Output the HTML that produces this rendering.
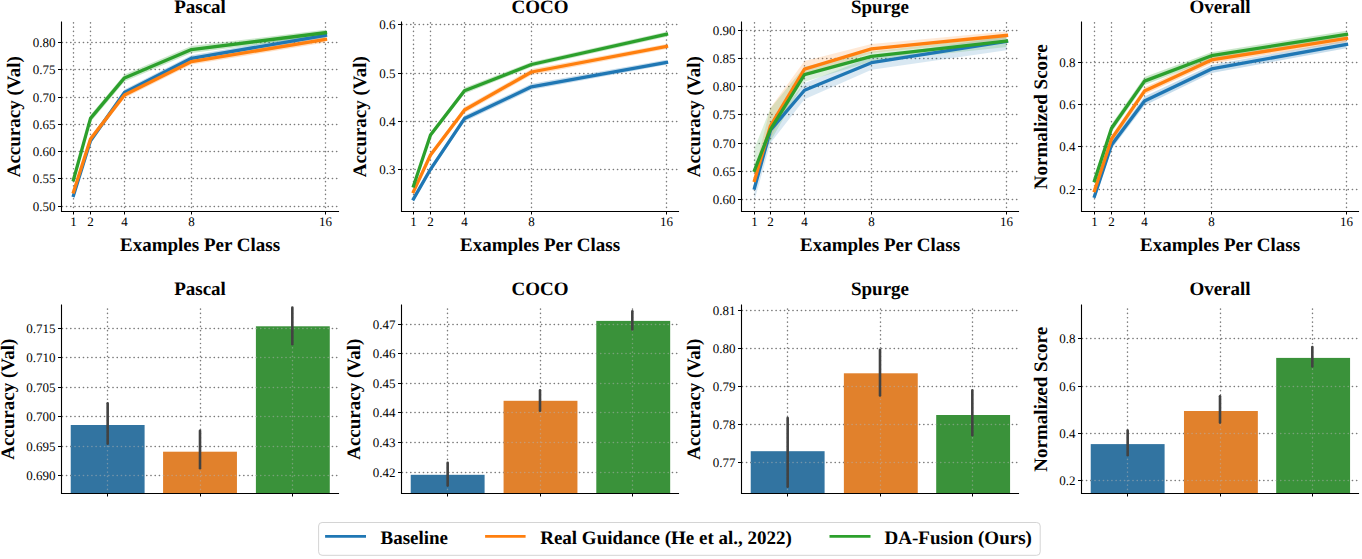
<!DOCTYPE html><html><head><meta charset="utf-8"><title>Results</title><style>html,body{margin:0;padding:0;background:#fff;width:1362px;height:559px;overflow:hidden}svg{display:block}</style></head><body><svg width="1362" height="559" viewBox="0 0 1362 559">
<style>.g{stroke:#7a7a7a;stroke-width:1.45;stroke-linecap:round;stroke-dasharray:0.25 3.97;stroke-dashoffset:-0.75;fill:none}.gv{stroke-dasharray:0.25 4.04;stroke-dashoffset:0.25}.sp{stroke:#000;stroke-width:1.1;fill:none;stroke-linecap:square}.tk{stroke:#000;stroke-width:1;fill:none}text{font-family:"Liberation Serif",serif;fill:#000;text-rendering:geometricPrecision}.tl{font-size:13px}.bl{font-size:19px;font-weight:bold}</style>
<rect width="100%" height="100%" fill="#fff"/>
<line x1="61.5" y1="206.5" x2="338.5" y2="206.5" class="g"/>
<line x1="61.5" y1="178.5" x2="338.5" y2="178.5" class="g"/>
<line x1="61.5" y1="151.5" x2="338.5" y2="151.5" class="g"/>
<line x1="61.5" y1="124.5" x2="338.5" y2="124.5" class="g"/>
<line x1="61.5" y1="97.5" x2="338.5" y2="97.5" class="g"/>
<line x1="61.5" y1="69.5" x2="338.5" y2="69.5" class="g"/>
<line x1="61.5" y1="42.5" x2="338.5" y2="42.5" class="g"/>
<line x1="73.5" y1="211.5" x2="73.5" y2="22" class="g gv"/>
<line x1="90.5" y1="211.5" x2="90.5" y2="22" class="g gv"/>
<line x1="124.5" y1="211.5" x2="124.5" y2="22" class="g gv"/>
<line x1="191.5" y1="211.5" x2="191.5" y2="22" class="g gv"/>
<line x1="325.5" y1="211.5" x2="325.5" y2="22" class="g gv"/>
<polygon points="73.5,192 90.5,137.7 124.5,89.5 191.5,55.3 325.5,32.3 325.5,38.3 191.5,61.3 124.5,95.5 90.5,143.7 73.5,199" fill="#1f77b4" fill-opacity="0.25"/>
<polygon points="73.5,189 90.5,136 124.5,92.1 191.5,58.6 325.5,36.4 325.5,42.4 191.5,64.6 124.5,98.1 90.5,142 73.5,195" fill="#ff7f0e" fill-opacity="0.25"/>
<polygon points="73.5,176.8 90.5,114.9 124.5,74.4 191.5,46.1 325.5,29.7 325.5,35.7 191.5,53.1 124.5,81.4 90.5,121.9 73.5,182.8" fill="#2ca02c" fill-opacity="0.25"/>
<polyline points="73.5,195.5 90.5,140.7 124.5,92.5 191.5,58.3 325.5,35.3" fill="none" stroke="#1f77b4" stroke-width="3.3" stroke-linejoin="round" stroke-linecap="square"/>
<polyline points="73.5,192 90.5,139 124.5,95.1 191.5,61.6 325.5,39.4" fill="none" stroke="#ff7f0e" stroke-width="3.3" stroke-linejoin="round" stroke-linecap="square"/>
<polyline points="73.5,179.8 90.5,118.4 124.5,77.9 191.5,49.6 325.5,32.7" fill="none" stroke="#2ca02c" stroke-width="3.3" stroke-linejoin="round" stroke-linecap="square"/>
<path class="sp" d="M61.5,22V211.5H338.5"/>
<line class="tk" x1="58" y1="206.5" x2="61.5" y2="206.5"/>
<text class="tl" x="55.5" y="210.9" text-anchor="end">0.50</text>
<line class="tk" x1="58" y1="178.5" x2="61.5" y2="178.5"/>
<text class="tl" x="55.5" y="182.9" text-anchor="end">0.55</text>
<line class="tk" x1="58" y1="151.5" x2="61.5" y2="151.5"/>
<text class="tl" x="55.5" y="155.9" text-anchor="end">0.60</text>
<line class="tk" x1="58" y1="124.5" x2="61.5" y2="124.5"/>
<text class="tl" x="55.5" y="128.9" text-anchor="end">0.65</text>
<line class="tk" x1="58" y1="97.5" x2="61.5" y2="97.5"/>
<text class="tl" x="55.5" y="101.9" text-anchor="end">0.70</text>
<line class="tk" x1="58" y1="69.5" x2="61.5" y2="69.5"/>
<text class="tl" x="55.5" y="73.9" text-anchor="end">0.75</text>
<line class="tk" x1="58" y1="42.5" x2="61.5" y2="42.5"/>
<text class="tl" x="55.5" y="46.9" text-anchor="end">0.80</text>
<line class="tk" x1="73.5" y1="211.5" x2="73.5" y2="214.5"/>
<text class="tl" x="73.5" y="226.1" text-anchor="middle">1</text>
<line class="tk" x1="90.5" y1="211.5" x2="90.5" y2="214.5"/>
<text class="tl" x="90.5" y="226.1" text-anchor="middle">2</text>
<line class="tk" x1="124.5" y1="211.5" x2="124.5" y2="214.5"/>
<text class="tl" x="124.5" y="226.1" text-anchor="middle">4</text>
<line class="tk" x1="191.5" y1="211.5" x2="191.5" y2="214.5"/>
<text class="tl" x="191.5" y="226.1" text-anchor="middle">8</text>
<line class="tk" x1="325.5" y1="211.5" x2="325.5" y2="214.5"/>
<text class="tl" x="325.5" y="226.1" text-anchor="middle">16</text>
<text class="bl" x="200" y="13.1" text-anchor="middle">Pascal</text>
<text class="bl" x="200" y="250.8" text-anchor="middle">Examples Per Class</text>
<text class="bl" x="20" y="116.75" text-anchor="middle" transform="rotate(-90 20 116.75)">Accuracy (Val)</text>
<line x1="401.5" y1="169.5" x2="678.5" y2="169.5" class="g"/>
<line x1="401.5" y1="121.5" x2="678.5" y2="121.5" class="g"/>
<line x1="401.5" y1="73.5" x2="678.5" y2="73.5" class="g"/>
<line x1="401.5" y1="24.5" x2="678.5" y2="24.5" class="g"/>
<line x1="413.5" y1="211.5" x2="413.5" y2="22" class="g gv"/>
<line x1="430.5" y1="211.5" x2="430.5" y2="22" class="g gv"/>
<line x1="464.5" y1="211.5" x2="464.5" y2="22" class="g gv"/>
<line x1="531.5" y1="211.5" x2="531.5" y2="22" class="g gv"/>
<line x1="666.5" y1="211.5" x2="666.5" y2="22" class="g gv"/>
<polygon points="413.5,196.4 430.5,166.8 464.5,115.6 531.5,83.8 666.5,59.8 666.5,64.8 531.5,89.8 464.5,121.6 430.5,171.8 413.5,201.4" fill="#1f77b4" fill-opacity="0.25"/>
<polygon points="413.5,189.1 430.5,152.5 464.5,107 531.5,69 666.5,43.9 666.5,48.9 531.5,75 464.5,113 430.5,157.5 413.5,194.1" fill="#ff7f0e" fill-opacity="0.25"/>
<polygon points="413.5,183.5 430.5,132.5 464.5,87.8 531.5,62 666.5,31.7 666.5,36.7 531.5,67 464.5,93.8 430.5,137.5 413.5,188.5" fill="#2ca02c" fill-opacity="0.25"/>
<polyline points="413.5,198.9 430.5,169.3 464.5,118.6 531.5,86.8 666.5,62.3" fill="none" stroke="#1f77b4" stroke-width="3.3" stroke-linejoin="round" stroke-linecap="square"/>
<polyline points="413.5,191.6 430.5,155 464.5,110 531.5,72 666.5,46.4" fill="none" stroke="#ff7f0e" stroke-width="3.3" stroke-linejoin="round" stroke-linecap="square"/>
<polyline points="413.5,186 430.5,135 464.5,90.8 531.5,64.5 666.5,34.2" fill="none" stroke="#2ca02c" stroke-width="3.3" stroke-linejoin="round" stroke-linecap="square"/>
<path class="sp" d="M401.5,22V211.5H678.5"/>
<line class="tk" x1="398" y1="169.5" x2="401.5" y2="169.5"/>
<text class="tl" x="395.5" y="173.9" text-anchor="end">0.3</text>
<line class="tk" x1="398" y1="121.5" x2="401.5" y2="121.5"/>
<text class="tl" x="395.5" y="125.9" text-anchor="end">0.4</text>
<line class="tk" x1="398" y1="73.5" x2="401.5" y2="73.5"/>
<text class="tl" x="395.5" y="77.9" text-anchor="end">0.5</text>
<line class="tk" x1="398" y1="24.5" x2="401.5" y2="24.5"/>
<text class="tl" x="395.5" y="28.9" text-anchor="end">0.6</text>
<line class="tk" x1="413.5" y1="211.5" x2="413.5" y2="214.5"/>
<text class="tl" x="413.5" y="226.1" text-anchor="middle">1</text>
<line class="tk" x1="430.5" y1="211.5" x2="430.5" y2="214.5"/>
<text class="tl" x="430.5" y="226.1" text-anchor="middle">2</text>
<line class="tk" x1="464.5" y1="211.5" x2="464.5" y2="214.5"/>
<text class="tl" x="464.5" y="226.1" text-anchor="middle">4</text>
<line class="tk" x1="531.5" y1="211.5" x2="531.5" y2="214.5"/>
<text class="tl" x="531.5" y="226.1" text-anchor="middle">8</text>
<line class="tk" x1="666.5" y1="211.5" x2="666.5" y2="214.5"/>
<text class="tl" x="666.5" y="226.1" text-anchor="middle">16</text>
<text class="bl" x="540" y="13.1" text-anchor="middle">COCO</text>
<text class="bl" x="540" y="250.8" text-anchor="middle">Examples Per Class</text>
<text class="bl" x="366" y="116.75" text-anchor="middle" transform="rotate(-90 366 116.75)">Accuracy (Val)</text>
<line x1="741.5" y1="199.5" x2="1018.5" y2="199.5" class="g"/>
<line x1="741.5" y1="171.5" x2="1018.5" y2="171.5" class="g"/>
<line x1="741.5" y1="143.5" x2="1018.5" y2="143.5" class="g"/>
<line x1="741.5" y1="114.5" x2="1018.5" y2="114.5" class="g"/>
<line x1="741.5" y1="86.5" x2="1018.5" y2="86.5" class="g"/>
<line x1="741.5" y1="58.5" x2="1018.5" y2="58.5" class="g"/>
<line x1="741.5" y1="30.5" x2="1018.5" y2="30.5" class="g"/>
<line x1="754.5" y1="211.5" x2="754.5" y2="22" class="g gv"/>
<line x1="770.5" y1="211.5" x2="770.5" y2="22" class="g gv"/>
<line x1="804.5" y1="211.5" x2="804.5" y2="22" class="g gv"/>
<line x1="871.5" y1="211.5" x2="871.5" y2="22" class="g gv"/>
<line x1="1006.5" y1="211.5" x2="1006.5" y2="22" class="g gv"/>
<polygon points="754.5,180 770.5,124.1 804.5,83.2 871.5,56.7 1006.5,36.3 1006.5,50.3 871.5,69.7 804.5,99.2 770.5,143.1 754.5,200" fill="#1f77b4" fill-opacity="0.17"/>
<polygon points="754.5,170.4 770.5,107.8 804.5,61.1 871.5,43.9 1006.5,31.4 1006.5,39.4 871.5,52.9 804.5,75.1 770.5,137.8 754.5,186.4" fill="#ff7f0e" fill-opacity="0.17"/>
<polygon points="754.5,148.3 770.5,108.3 804.5,66.7 871.5,51.4 1006.5,36.1 1006.5,47.1 871.5,61.4 804.5,81.7 770.5,141.3 754.5,174.3" fill="#2ca02c" fill-opacity="0.17"/>
<polyline points="754.5,188 770.5,130.1 804.5,90.2 871.5,62.7 1006.5,41.3" fill="none" stroke="#1f77b4" stroke-width="3.3" stroke-linejoin="round" stroke-linecap="square"/>
<polyline points="754.5,180.4 770.5,125.8 804.5,69.1 871.5,48.9 1006.5,35.4" fill="none" stroke="#ff7f0e" stroke-width="3.3" stroke-linejoin="round" stroke-linecap="square"/>
<polyline points="754.5,170.3 770.5,129.3 804.5,74.7 871.5,56.4 1006.5,41.1" fill="none" stroke="#2ca02c" stroke-width="3.3" stroke-linejoin="round" stroke-linecap="square"/>
<path class="sp" d="M741.5,22V211.5H1018.5"/>
<line class="tk" x1="738" y1="199.5" x2="741.5" y2="199.5"/>
<text class="tl" x="735.5" y="203.9" text-anchor="end">0.60</text>
<line class="tk" x1="738" y1="171.5" x2="741.5" y2="171.5"/>
<text class="tl" x="735.5" y="175.9" text-anchor="end">0.65</text>
<line class="tk" x1="738" y1="143.5" x2="741.5" y2="143.5"/>
<text class="tl" x="735.5" y="147.9" text-anchor="end">0.70</text>
<line class="tk" x1="738" y1="114.5" x2="741.5" y2="114.5"/>
<text class="tl" x="735.5" y="118.9" text-anchor="end">0.75</text>
<line class="tk" x1="738" y1="86.5" x2="741.5" y2="86.5"/>
<text class="tl" x="735.5" y="90.9" text-anchor="end">0.80</text>
<line class="tk" x1="738" y1="58.5" x2="741.5" y2="58.5"/>
<text class="tl" x="735.5" y="62.9" text-anchor="end">0.85</text>
<line class="tk" x1="738" y1="30.5" x2="741.5" y2="30.5"/>
<text class="tl" x="735.5" y="34.9" text-anchor="end">0.90</text>
<line class="tk" x1="754.5" y1="211.5" x2="754.5" y2="214.5"/>
<text class="tl" x="754.5" y="226.1" text-anchor="middle">1</text>
<line class="tk" x1="770.5" y1="211.5" x2="770.5" y2="214.5"/>
<text class="tl" x="770.5" y="226.1" text-anchor="middle">2</text>
<line class="tk" x1="804.5" y1="211.5" x2="804.5" y2="214.5"/>
<text class="tl" x="804.5" y="226.1" text-anchor="middle">4</text>
<line class="tk" x1="871.5" y1="211.5" x2="871.5" y2="214.5"/>
<text class="tl" x="871.5" y="226.1" text-anchor="middle">8</text>
<line class="tk" x1="1006.5" y1="211.5" x2="1006.5" y2="214.5"/>
<text class="tl" x="1006.5" y="226.1" text-anchor="middle">16</text>
<text class="bl" x="880" y="13.1" text-anchor="middle">Spurge</text>
<text class="bl" x="880" y="250.8" text-anchor="middle">Examples Per Class</text>
<text class="bl" x="700" y="116.75" text-anchor="middle" transform="rotate(-90 700 116.75)">Accuracy (Val)</text>
<line x1="1081.5" y1="189.5" x2="1358.5" y2="189.5" class="g"/>
<line x1="1081.5" y1="146.5" x2="1358.5" y2="146.5" class="g"/>
<line x1="1081.5" y1="104.5" x2="1358.5" y2="104.5" class="g"/>
<line x1="1081.5" y1="62.5" x2="1358.5" y2="62.5" class="g"/>
<line x1="1094.5" y1="211.5" x2="1094.5" y2="22" class="g gv"/>
<line x1="1111.5" y1="211.5" x2="1111.5" y2="22" class="g gv"/>
<line x1="1144.5" y1="211.5" x2="1144.5" y2="22" class="g gv"/>
<line x1="1211.5" y1="211.5" x2="1211.5" y2="22" class="g gv"/>
<line x1="1346.5" y1="211.5" x2="1346.5" y2="22" class="g gv"/>
<polygon points="1094.5,192.2 1111.5,141 1144.5,96.4 1211.5,64.9 1346.5,40.3 1346.5,48.3 1211.5,72.9 1144.5,105.4 1111.5,149 1094.5,200.2" fill="#1f77b4" fill-opacity="0.25"/>
<polygon points="1094.5,187.1 1111.5,135.4 1144.5,87.6 1211.5,56.4 1346.5,34.9 1346.5,41.9 1211.5,63.4 1144.5,94.6 1111.5,142.4 1094.5,194.1" fill="#ff7f0e" fill-opacity="0.25"/>
<polygon points="1094.5,177.1 1111.5,124.3 1144.5,77.1 1211.5,52.2 1346.5,30.8 1346.5,37.8 1211.5,59.2 1144.5,85.1 1111.5,132.3 1094.5,184.1" fill="#2ca02c" fill-opacity="0.25"/>
<polyline points="1094.5,196.2 1111.5,145 1144.5,100.9 1211.5,68.9 1346.5,44.3" fill="none" stroke="#1f77b4" stroke-width="3.3" stroke-linejoin="round" stroke-linecap="square"/>
<polyline points="1094.5,190.6 1111.5,138.9 1144.5,91.1 1211.5,59.9 1346.5,38.4" fill="none" stroke="#ff7f0e" stroke-width="3.3" stroke-linejoin="round" stroke-linecap="square"/>
<polyline points="1094.5,180.6 1111.5,128.3 1144.5,81.1 1211.5,55.7 1346.5,34.3" fill="none" stroke="#2ca02c" stroke-width="3.3" stroke-linejoin="round" stroke-linecap="square"/>
<path class="sp" d="M1081.5,22V211.5H1358.5"/>
<line class="tk" x1="1078" y1="189.5" x2="1081.5" y2="189.5"/>
<text class="tl" x="1075.5" y="193.9" text-anchor="end">0.2</text>
<line class="tk" x1="1078" y1="146.5" x2="1081.5" y2="146.5"/>
<text class="tl" x="1075.5" y="150.9" text-anchor="end">0.4</text>
<line class="tk" x1="1078" y1="104.5" x2="1081.5" y2="104.5"/>
<text class="tl" x="1075.5" y="108.9" text-anchor="end">0.6</text>
<line class="tk" x1="1078" y1="62.5" x2="1081.5" y2="62.5"/>
<text class="tl" x="1075.5" y="66.9" text-anchor="end">0.8</text>
<line class="tk" x1="1094.5" y1="211.5" x2="1094.5" y2="214.5"/>
<text class="tl" x="1094.5" y="226.1" text-anchor="middle">1</text>
<line class="tk" x1="1111.5" y1="211.5" x2="1111.5" y2="214.5"/>
<text class="tl" x="1111.5" y="226.1" text-anchor="middle">2</text>
<line class="tk" x1="1144.5" y1="211.5" x2="1144.5" y2="214.5"/>
<text class="tl" x="1144.5" y="226.1" text-anchor="middle">4</text>
<line class="tk" x1="1211.5" y1="211.5" x2="1211.5" y2="214.5"/>
<text class="tl" x="1211.5" y="226.1" text-anchor="middle">8</text>
<line class="tk" x1="1346.5" y1="211.5" x2="1346.5" y2="214.5"/>
<text class="tl" x="1346.5" y="226.1" text-anchor="middle">16</text>
<text class="bl" x="1220" y="13.1" text-anchor="middle">Overall</text>
<text class="bl" x="1220" y="250.8" text-anchor="middle">Examples Per Class</text>
<text class="bl" x="1046.8" y="116.75" text-anchor="middle" transform="rotate(-90 1046.8 116.75)">Normalized Score</text>
<line x1="61.5" y1="475.5" x2="338.5" y2="475.5" class="g"/>
<line x1="61.5" y1="446.5" x2="338.5" y2="446.5" class="g"/>
<line x1="61.5" y1="416.5" x2="338.5" y2="416.5" class="g"/>
<line x1="61.5" y1="387.5" x2="338.5" y2="387.5" class="g"/>
<line x1="61.5" y1="357.5" x2="338.5" y2="357.5" class="g"/>
<line x1="61.5" y1="328.5" x2="338.5" y2="328.5" class="g"/>
<line x1="107.5" y1="493.5" x2="107.5" y2="305" class="g gv"/>
<line x1="200.5" y1="493.5" x2="200.5" y2="305" class="g gv"/>
<line x1="292.5" y1="493.5" x2="292.5" y2="305" class="g gv"/>
<rect x="70.73" y="425" width="73.87" height="68.5" fill="#3274a1"/>
<rect x="163.07" y="451.7" width="73.87" height="41.8" fill="#e1812c"/>
<rect x="255.9" y="326.3" width="73.87" height="167.2" fill="#3a923a"/>
<clipPath id="cb0"><rect x="70.73" y="425" width="73.87" height="68.5"/><rect x="163.07" y="451.7" width="73.87" height="41.8"/><rect x="255.9" y="326.3" width="73.87" height="167.2"/></clipPath>
<g clip-path="url(#cb0)" style="stroke:#b4b4b4;stroke-opacity:0.5">
<line x1="61.5" y1="475.5" x2="338.5" y2="475.5" class="g" style="stroke:inherit"/>
<line x1="61.5" y1="446.5" x2="338.5" y2="446.5" class="g" style="stroke:inherit"/>
<line x1="61.5" y1="416.5" x2="338.5" y2="416.5" class="g" style="stroke:inherit"/>
<line x1="61.5" y1="387.5" x2="338.5" y2="387.5" class="g" style="stroke:inherit"/>
<line x1="61.5" y1="357.5" x2="338.5" y2="357.5" class="g" style="stroke:inherit"/>
<line x1="61.5" y1="328.5" x2="338.5" y2="328.5" class="g" style="stroke:inherit"/>
<line x1="107.5" y1="493.5" x2="107.5" y2="305" class="g gv" style="stroke:inherit"/>
<line x1="200.5" y1="493.5" x2="200.5" y2="305" class="g gv" style="stroke:inherit"/>
<line x1="292.5" y1="493.5" x2="292.5" y2="305" class="g gv" style="stroke:inherit"/>
</g>
<line x1="107.67" y1="403.3" x2="107.67" y2="443.7" stroke="#424242" stroke-width="2.6" stroke-linecap="round"/>
<line x1="200" y1="430.8" x2="200" y2="468.3" stroke="#424242" stroke-width="2.6" stroke-linecap="round"/>
<line x1="292.33" y1="307.5" x2="292.33" y2="344.3" stroke="#424242" stroke-width="2.6" stroke-linecap="round"/>
<path class="sp" d="M61.5,305V493.5H338.5"/>
<line class="tk" x1="58" y1="475.5" x2="61.5" y2="475.5"/>
<text class="tl" x="55.5" y="479.9" text-anchor="end">0.690</text>
<line class="tk" x1="58" y1="446.5" x2="61.5" y2="446.5"/>
<text class="tl" x="55.5" y="450.9" text-anchor="end">0.695</text>
<line class="tk" x1="58" y1="416.5" x2="61.5" y2="416.5"/>
<text class="tl" x="55.5" y="420.9" text-anchor="end">0.700</text>
<line class="tk" x1="58" y1="387.5" x2="61.5" y2="387.5"/>
<text class="tl" x="55.5" y="391.9" text-anchor="end">0.705</text>
<line class="tk" x1="58" y1="357.5" x2="61.5" y2="357.5"/>
<text class="tl" x="55.5" y="361.9" text-anchor="end">0.710</text>
<line class="tk" x1="58" y1="328.5" x2="61.5" y2="328.5"/>
<text class="tl" x="55.5" y="332.9" text-anchor="end">0.715</text>
<line class="tk" x1="107.5" y1="493.5" x2="107.5" y2="496.5"/>
<line class="tk" x1="200.5" y1="493.5" x2="200.5" y2="496.5"/>
<line class="tk" x1="292.5" y1="493.5" x2="292.5" y2="496.5"/>
<text class="bl" x="200" y="295.4" text-anchor="middle">Pascal</text>
<text class="bl" x="14" y="399.25" text-anchor="middle" transform="rotate(-90 14 399.25)">Accuracy (Val)</text>
<line x1="401.5" y1="472.5" x2="678.5" y2="472.5" class="g"/>
<line x1="401.5" y1="442.5" x2="678.5" y2="442.5" class="g"/>
<line x1="401.5" y1="412.5" x2="678.5" y2="412.5" class="g"/>
<line x1="401.5" y1="383.5" x2="678.5" y2="383.5" class="g"/>
<line x1="401.5" y1="353.5" x2="678.5" y2="353.5" class="g"/>
<line x1="401.5" y1="324.5" x2="678.5" y2="324.5" class="g"/>
<line x1="447.5" y1="493.5" x2="447.5" y2="305" class="g gv"/>
<line x1="540.5" y1="493.5" x2="540.5" y2="305" class="g gv"/>
<line x1="632.5" y1="493.5" x2="632.5" y2="305" class="g gv"/>
<rect x="410.73" y="474.8" width="73.87" height="18.7" fill="#3274a1"/>
<rect x="503.57" y="400.8" width="73.87" height="92.7" fill="#e1812c"/>
<rect x="596.3" y="320.9" width="73.87" height="172.6" fill="#3a923a"/>
<clipPath id="cb1"><rect x="410.73" y="474.8" width="73.87" height="18.7"/><rect x="503.57" y="400.8" width="73.87" height="92.7"/><rect x="596.3" y="320.9" width="73.87" height="172.6"/></clipPath>
<g clip-path="url(#cb1)" style="stroke:#b4b4b4;stroke-opacity:0.5">
<line x1="401.5" y1="472.5" x2="678.5" y2="472.5" class="g" style="stroke:inherit"/>
<line x1="401.5" y1="442.5" x2="678.5" y2="442.5" class="g" style="stroke:inherit"/>
<line x1="401.5" y1="412.5" x2="678.5" y2="412.5" class="g" style="stroke:inherit"/>
<line x1="401.5" y1="383.5" x2="678.5" y2="383.5" class="g" style="stroke:inherit"/>
<line x1="401.5" y1="353.5" x2="678.5" y2="353.5" class="g" style="stroke:inherit"/>
<line x1="401.5" y1="324.5" x2="678.5" y2="324.5" class="g" style="stroke:inherit"/>
<line x1="447.5" y1="493.5" x2="447.5" y2="305" class="g gv" style="stroke:inherit"/>
<line x1="540.5" y1="493.5" x2="540.5" y2="305" class="g gv" style="stroke:inherit"/>
<line x1="632.5" y1="493.5" x2="632.5" y2="305" class="g gv" style="stroke:inherit"/>
</g>
<line x1="447.67" y1="462.8" x2="447.67" y2="485.6" stroke="#424242" stroke-width="2.6" stroke-linecap="round"/>
<line x1="540" y1="390.4" x2="540" y2="410.8" stroke="#424242" stroke-width="2.6" stroke-linecap="round"/>
<line x1="632.33" y1="311.3" x2="632.33" y2="329.4" stroke="#424242" stroke-width="2.6" stroke-linecap="round"/>
<path class="sp" d="M401.5,305V493.5H678.5"/>
<line class="tk" x1="398" y1="472.5" x2="401.5" y2="472.5"/>
<text class="tl" x="395.5" y="476.9" text-anchor="end">0.42</text>
<line class="tk" x1="398" y1="442.5" x2="401.5" y2="442.5"/>
<text class="tl" x="395.5" y="446.9" text-anchor="end">0.43</text>
<line class="tk" x1="398" y1="412.5" x2="401.5" y2="412.5"/>
<text class="tl" x="395.5" y="416.9" text-anchor="end">0.44</text>
<line class="tk" x1="398" y1="383.5" x2="401.5" y2="383.5"/>
<text class="tl" x="395.5" y="387.9" text-anchor="end">0.45</text>
<line class="tk" x1="398" y1="353.5" x2="401.5" y2="353.5"/>
<text class="tl" x="395.5" y="357.9" text-anchor="end">0.46</text>
<line class="tk" x1="398" y1="324.5" x2="401.5" y2="324.5"/>
<text class="tl" x="395.5" y="328.9" text-anchor="end">0.47</text>
<line class="tk" x1="447.5" y1="493.5" x2="447.5" y2="496.5"/>
<line class="tk" x1="540.5" y1="493.5" x2="540.5" y2="496.5"/>
<line class="tk" x1="632.5" y1="493.5" x2="632.5" y2="496.5"/>
<text class="bl" x="540" y="295.4" text-anchor="middle">COCO</text>
<text class="bl" x="360" y="399.25" text-anchor="middle" transform="rotate(-90 360 399.25)">Accuracy (Val)</text>
<line x1="741.5" y1="462.5" x2="1018.5" y2="462.5" class="g"/>
<line x1="741.5" y1="424.5" x2="1018.5" y2="424.5" class="g"/>
<line x1="741.5" y1="386.5" x2="1018.5" y2="386.5" class="g"/>
<line x1="741.5" y1="348.5" x2="1018.5" y2="348.5" class="g"/>
<line x1="741.5" y1="310.5" x2="1018.5" y2="310.5" class="g"/>
<line x1="787.5" y1="493.5" x2="787.5" y2="305" class="g gv"/>
<line x1="880.5" y1="493.5" x2="880.5" y2="305" class="g gv"/>
<line x1="972.5" y1="493.5" x2="972.5" y2="305" class="g gv"/>
<rect x="750.73" y="451.2" width="73.87" height="42.3" fill="#3274a1"/>
<rect x="843.87" y="373.3" width="73.87" height="120.2" fill="#e1812c"/>
<rect x="936.2" y="415" width="73.87" height="78.5" fill="#3a923a"/>
<clipPath id="cb2"><rect x="750.73" y="451.2" width="73.87" height="42.3"/><rect x="843.87" y="373.3" width="73.87" height="120.2"/><rect x="936.2" y="415" width="73.87" height="78.5"/></clipPath>
<g clip-path="url(#cb2)" style="stroke:#b4b4b4;stroke-opacity:0.5">
<line x1="741.5" y1="462.5" x2="1018.5" y2="462.5" class="g" style="stroke:inherit"/>
<line x1="741.5" y1="424.5" x2="1018.5" y2="424.5" class="g" style="stroke:inherit"/>
<line x1="741.5" y1="386.5" x2="1018.5" y2="386.5" class="g" style="stroke:inherit"/>
<line x1="741.5" y1="348.5" x2="1018.5" y2="348.5" class="g" style="stroke:inherit"/>
<line x1="741.5" y1="310.5" x2="1018.5" y2="310.5" class="g" style="stroke:inherit"/>
<line x1="787.5" y1="493.5" x2="787.5" y2="305" class="g gv" style="stroke:inherit"/>
<line x1="880.5" y1="493.5" x2="880.5" y2="305" class="g gv" style="stroke:inherit"/>
<line x1="972.5" y1="493.5" x2="972.5" y2="305" class="g gv" style="stroke:inherit"/>
</g>
<line x1="787.67" y1="418" x2="787.67" y2="486.8" stroke="#424242" stroke-width="2.6" stroke-linecap="round"/>
<line x1="880" y1="349.9" x2="880" y2="395.5" stroke="#424242" stroke-width="2.6" stroke-linecap="round"/>
<line x1="972.33" y1="390.4" x2="972.33" y2="435.2" stroke="#424242" stroke-width="2.6" stroke-linecap="round"/>
<path class="sp" d="M741.5,305V493.5H1018.5"/>
<line class="tk" x1="738" y1="462.5" x2="741.5" y2="462.5"/>
<text class="tl" x="735.5" y="466.9" text-anchor="end">0.77</text>
<line class="tk" x1="738" y1="424.5" x2="741.5" y2="424.5"/>
<text class="tl" x="735.5" y="428.9" text-anchor="end">0.78</text>
<line class="tk" x1="738" y1="386.5" x2="741.5" y2="386.5"/>
<text class="tl" x="735.5" y="390.9" text-anchor="end">0.79</text>
<line class="tk" x1="738" y1="348.5" x2="741.5" y2="348.5"/>
<text class="tl" x="735.5" y="352.9" text-anchor="end">0.80</text>
<line class="tk" x1="738" y1="310.5" x2="741.5" y2="310.5"/>
<text class="tl" x="735.5" y="314.9" text-anchor="end">0.81</text>
<line class="tk" x1="787.5" y1="493.5" x2="787.5" y2="496.5"/>
<line class="tk" x1="880.5" y1="493.5" x2="880.5" y2="496.5"/>
<line class="tk" x1="972.5" y1="493.5" x2="972.5" y2="496.5"/>
<text class="bl" x="880" y="295.4" text-anchor="middle">Spurge</text>
<text class="bl" x="700" y="399.25" text-anchor="middle" transform="rotate(-90 700 399.25)">Accuracy (Val)</text>
<line x1="1081.5" y1="480.5" x2="1358.5" y2="480.5" class="g"/>
<line x1="1081.5" y1="433.5" x2="1358.5" y2="433.5" class="g"/>
<line x1="1081.5" y1="386.5" x2="1358.5" y2="386.5" class="g"/>
<line x1="1081.5" y1="338.5" x2="1358.5" y2="338.5" class="g"/>
<line x1="1127.5" y1="493.5" x2="1127.5" y2="305" class="g gv"/>
<line x1="1220.5" y1="493.5" x2="1220.5" y2="305" class="g gv"/>
<line x1="1312.5" y1="493.5" x2="1312.5" y2="305" class="g gv"/>
<rect x="1090.73" y="444.1" width="73.87" height="49.4" fill="#3274a1"/>
<rect x="1183.97" y="411" width="73.87" height="82.5" fill="#e1812c"/>
<rect x="1276.2" y="357.9" width="73.87" height="135.6" fill="#3a923a"/>
<clipPath id="cb3"><rect x="1090.73" y="444.1" width="73.87" height="49.4"/><rect x="1183.97" y="411" width="73.87" height="82.5"/><rect x="1276.2" y="357.9" width="73.87" height="135.6"/></clipPath>
<g clip-path="url(#cb3)" style="stroke:#b4b4b4;stroke-opacity:0.5">
<line x1="1081.5" y1="480.5" x2="1358.5" y2="480.5" class="g" style="stroke:inherit"/>
<line x1="1081.5" y1="433.5" x2="1358.5" y2="433.5" class="g" style="stroke:inherit"/>
<line x1="1081.5" y1="386.5" x2="1358.5" y2="386.5" class="g" style="stroke:inherit"/>
<line x1="1081.5" y1="338.5" x2="1358.5" y2="338.5" class="g" style="stroke:inherit"/>
<line x1="1127.5" y1="493.5" x2="1127.5" y2="305" class="g gv" style="stroke:inherit"/>
<line x1="1220.5" y1="493.5" x2="1220.5" y2="305" class="g gv" style="stroke:inherit"/>
<line x1="1312.5" y1="493.5" x2="1312.5" y2="305" class="g gv" style="stroke:inherit"/>
</g>
<line x1="1127.67" y1="430.5" x2="1127.67" y2="455.3" stroke="#424242" stroke-width="2.6" stroke-linecap="round"/>
<line x1="1220" y1="396.3" x2="1220" y2="422.6" stroke="#424242" stroke-width="2.6" stroke-linecap="round"/>
<line x1="1312.33" y1="347.1" x2="1312.33" y2="366.4" stroke="#424242" stroke-width="2.6" stroke-linecap="round"/>
<path class="sp" d="M1081.5,305V493.5H1358.5"/>
<line class="tk" x1="1078" y1="480.5" x2="1081.5" y2="480.5"/>
<text class="tl" x="1075.5" y="484.9" text-anchor="end">0.2</text>
<line class="tk" x1="1078" y1="433.5" x2="1081.5" y2="433.5"/>
<text class="tl" x="1075.5" y="437.9" text-anchor="end">0.4</text>
<line class="tk" x1="1078" y1="386.5" x2="1081.5" y2="386.5"/>
<text class="tl" x="1075.5" y="390.9" text-anchor="end">0.6</text>
<line class="tk" x1="1078" y1="338.5" x2="1081.5" y2="338.5"/>
<text class="tl" x="1075.5" y="342.9" text-anchor="end">0.8</text>
<line class="tk" x1="1127.5" y1="493.5" x2="1127.5" y2="496.5"/>
<line class="tk" x1="1220.5" y1="493.5" x2="1220.5" y2="496.5"/>
<line class="tk" x1="1312.5" y1="493.5" x2="1312.5" y2="496.5"/>
<text class="bl" x="1220" y="295.4" text-anchor="middle">Overall</text>
<text class="bl" x="1046.8" y="399.25" text-anchor="middle" transform="rotate(-90 1046.8 399.25)">Normalized Score</text>
<rect x="318.6" y="522.5" width="721.6" height="32.8" rx="3.5" fill="#fff" stroke="#d4d4d4" stroke-width="1"/>
<line x1="325.1" y1="536.4" x2="366" y2="536.4" stroke="#1f77b4" stroke-width="2.8"/>
<text class="bl" x="380.5" y="543.6">Baseline</text>
<line x1="485.1" y1="536.4" x2="525.6" y2="536.4" stroke="#ff7f0e" stroke-width="2.8"/>
<text class="bl" x="540.2" y="543.6">Real Guidance (He et al., 2022)</text>
<line x1="829.5" y1="536.4" x2="870.5" y2="536.4" stroke="#2ca02c" stroke-width="2.8"/>
<text class="bl" x="884.6" y="543.6">DA-Fusion (Ours)</text>
</svg></body></html>
